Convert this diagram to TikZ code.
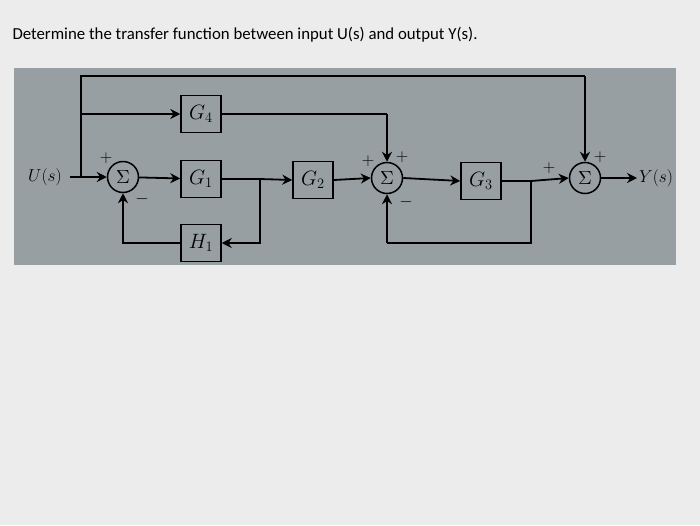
\documentclass[tikz,border=0pt]{standalone}
\usepackage{fontspec}
\usepackage{graphicx}
\newfontfamily\titlefont{Carlito}
\usetikzlibrary{arrows.meta}
\definecolor{bg}{HTML}{ECECEC}
\definecolor{panel}{HTML}{979FA3}
\begin{document}
\begin{tikzpicture}[x=1pt,y=-1pt,
  blk/.style={draw,line width=1.5pt,minimum width=40pt,minimum height=37pt,inner sep=0pt,font=\fontsize{20}{22}\selectfont},
  sumn/.style={draw,circle,line width=1.5pt,minimum size=31pt,inner sep=0pt},
  sig/.style={font=\fontsize{16}{18}\selectfont,inner sep=0pt},
  ln/.style={line width=1.8pt},
  ar/.style={ln,-{Stealth[length=10pt,width=10pt]}}]
\useasboundingbox (0,0) rectangle (700,525);
\fill[bg] (0,0) rectangle (700,525);
\fill[panel] (14,68) rectangle (676,265);
\node[anchor=west,font=\titlefont\fontsize{16.8}{19}\selectfont] (title) at (9,35) {Determine the transfer function between input U(s) and output Y(s).};
\node[font=\fontsize{19}{21}\selectfont] (u) at (45,177) {$U(s)$};
\coordinate (in) at (70,177);
\coordinate (b1) at (81,177);
\node[sumn] (s1) at (123,177) {\scalebox{1.9}{$\Sigma$}};
\node[blk] (g1) at (201,179) {$G_1$};
\node[blk] (g4) at (201,114) {$G_4$};
\node[blk] (h1) at (201,243) {$H_1$};
\node[blk] (g2) at (313,180) {$G_2$};
\node[sumn] (s2) at (387,178) {\scalebox{1.9}{$\Sigma$}};
\node[blk] (g3) at (481,181) {$G_3$};
\node[sumn] (s3) at (585,178) {\scalebox{1.9}{$\Sigma$}};
\node[font=\fontsize{19}{21}\selectfont,anchor=west,inner sep=2pt] (y) at (637,178) {$Y(s)$};
\coordinate (b2) at (260,179);
\coordinate (b3) at (531,181);
% connections
\draw[ar] (in) -- (s1.west);
\draw[ln] (b1) |- (585,76);
\draw[ar] (585,76) -- (s3.north);
\draw[ar] (81,114) -- (g4.west);
\draw[ln] (g4.east) -- (387,114);
\draw[ar] (387,114) -- (s2.north);
\draw[ar] (s1) -- (g1);
\draw[ln] (g1.east) -- (b2);
\draw[ar] (b2) -- (g2.west);
\draw[ar] (b2) |- (h1.east);
\draw[ar] (h1.west) -| (s1.south);
\draw[ar] (g2.east) -- (s2.west);
\draw[ar] (s2.east) -- (g3.west);
\draw[ln] (g3.east) -- (b3);
\draw[ar] (b3) -- (s3.west);
\draw[ln] (b3) |- (387,243);
\draw[ar] (387,243) -- (s2.south);
\draw[ar] (s3.east) -- (y.west);
% signs
\node[sig] (p1) at (106,158) {$+$};
\node[sig] (m1) at (142,199) {$-$};
\node[sig] (p2a) at (368,161) {$+$};
\node[sig] (p2b) at (402,157) {$+$};
\node[sig] (m2) at (406,202) {$-$};
\node[sig] (p3a) at (549,168) {$+$};
\node[sig] (p3b) at (600,157) {$+$};
\end{tikzpicture}
\end{document}
